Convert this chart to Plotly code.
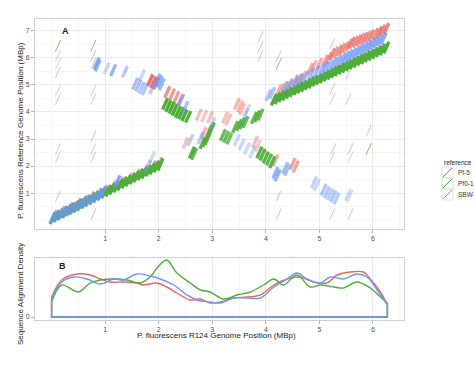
import plotly.graph_objects as go

W, H = 474, 366

# ---------------- data ----------------
ref_names = ["Pf-5", "Pf0-1", "SBW-"]
ref_colors = ["#E8675E", "#4FAE3A", "#6C96F5"]

# alignment marks (query MBp, reference MBp, identity %)
pf5_x = [0.05, 0.2, 0.35, 0.5, 0.62, 0.75, 0.88, 1.0, 1.15, 1.3, 1.45, 1.6, 1.75, 1.9, 2.02,
         1.84, 1.9, 1.95, 2.16, 2.25, 2.33, 2.42, 2.5, 2.84, 2.93, 2.96, 2.75, 2.85, 3.24, 3.3,
         3.46, 3.52, 3.56, 3.8, 3.85, 4.18, 4.5, 4.56,
         4.24, 4.3, 4.38, 4.45, 4.55, 4.62, 4.7, 4.83, 4.9, 5.0, 5.11, 5.18, 5.24, 5.3, 5.37,
         5.43, 5.5, 5.56, 5.61, 5.67, 5.73, 5.79, 5.85, 5.91, 5.97, 6.05, 6.12, 6.18, 6.25,
         5.24, 5.54, 5.24, 5.54, 5.92, 3.9, 4.24, 0.12, 0.12, 0.78, 0.78, 0.12, 0.78, 5.92, 4.24]
pf5_y = [0.15, 0.3, 0.45, 0.6, 0.72, 0.84, 0.97, 1.09, 1.24, 1.38, 1.53, 1.68, 1.83, 1.98, 2.1,
         5.18, 5.1, 5.05, 4.74, 4.65, 4.55, 4.45, 2.85, 3.22, 3.26, 3.81, 3.9, 3.85, 3.8, 3.72,
         4.3, 4.2, 4.1, 2.9, 2.75, 2.22, 2.08, 1.98,
         4.81, 4.85, 4.92, 5.0, 5.16, 5.2, 5.3, 5.6, 5.7, 5.78, 5.9, 6.0, 6.15, 6.2, 6.27,
         6.33, 6.4, 6.5, 6.56, 6.6, 6.65, 6.7, 6.74, 6.78, 6.83, 6.89, 6.95, 7.02, 7.08,
         6.52, 5.41, 4.48, 4.48, 3.3, 6.78, 6.07, 6.45, 5.47, 6.08, 4.79, 2.63, 2.33, 2.63, 5.78]
pf5_id = [90, 90, 90, 91, 90, 91, 90, 90, 89, 90, 89, 90, 91, 92, 93,
          96, 95, 94, 92, 91, 91, 90, 86, 88, 88, 87, 87, 86, 87, 87,
          88, 88, 87, 87, 86, 89, 90, 90,
          88, 87, 88, 87, 89, 88, 88, 89, 88, 89, 90, 90, 91, 90, 91,
          91, 90, 91, 92, 91, 92, 91, 92, 91, 92, 92, 93, 92, 93,
          82, 82, 81, 81, 81, 81, 81, 81, 81, 81, 81, 81, 81, 81, 81]

pf01_x = [0.02, 0.09, 0.16, 0.24, 0.31, 0.38, 0.46, 0.53, 0.61, 0.68, 0.76, 0.83, 0.91, 0.98,
          1.06, 1.13, 1.21, 1.28, 1.36, 1.43, 1.51, 1.58, 1.66, 1.73, 1.81, 1.88, 1.96, 2.03,
          2.12, 2.18, 2.24, 2.3, 2.36, 2.42, 2.48, 2.55,
          2.62, 2.66, 2.82, 2.87, 2.91, 2.95, 2.99,
          3.2, 3.26, 3.32, 3.43, 3.5, 3.56, 3.62, 3.78, 3.84, 3.9,
          3.88, 3.94, 4.0, 4.06, 4.12,
          4.15, 4.22, 4.29, 4.36, 4.43, 4.5, 4.57, 4.64, 4.71, 4.78, 4.85, 4.92, 4.99, 5.06,
          5.13, 5.2, 5.27, 5.34, 5.41, 5.48, 5.55, 5.62, 5.69, 5.76, 5.83, 5.9, 5.97, 6.04,
          6.11, 6.18, 6.25,
          5.26, 5.58, 0.12, 0.12, 0.78, 0.78, 0.12, 0.78, 5.92, 4.24, 4.24, 0.78, 5.24, 5.58, 3.9]
pf01_y = [0.07, 0.14, 0.21, 0.29, 0.36, 0.42, 0.5, 0.57, 0.65, 0.72, 0.8, 0.87, 0.95, 1.02,
          1.09, 1.16, 1.24, 1.31, 1.39, 1.46, 1.54, 1.61, 1.69, 1.75, 1.83, 1.9, 1.98, 2.05,
          4.3, 4.22, 4.15, 4.08, 4.0, 3.95, 3.88, 3.82,
          2.5, 2.45, 2.85, 2.92, 3.0, 3.3, 3.4,
          3.15, 3.08, 3.02, 3.45, 3.52, 3.58, 3.63, 3.78, 3.84, 3.9,
          2.5, 2.42, 2.32, 2.24, 2.14,
          4.45, 4.51, 4.58, 4.64, 4.71, 4.77, 4.84, 4.9, 4.96, 5.03, 5.09, 5.16, 5.22, 5.28,
          5.35, 5.41, 5.48, 5.54, 5.61, 5.67, 5.73, 5.8, 5.86, 5.93, 5.99, 6.06, 6.12, 6.18,
          6.25, 6.31, 6.38,
          2.63, 2.63, 6.45, 4.48, 6.45, 5.78, 0.89, 0.22, 2.63, 0.89, 0.22, 3.1, 0.22, 0.22, 6.41]
pf01_id = [97, 97, 96, 97, 96, 97, 97, 96, 97, 98, 97, 98, 97, 98,
           98, 98, 97, 98, 98, 97, 98, 98, 97, 98, 98, 97, 98, 97,
           97, 97, 98, 97, 97, 98, 97, 96,
           96, 95, 96, 96, 95, 96, 96,
           94, 94, 93, 95, 95, 95, 94, 95, 95, 94,
           96, 96, 96, 95, 96,
           98, 98, 98, 98, 98, 98, 98, 98, 98, 98, 98, 98, 98, 98,
           98, 98, 98, 98, 98, 98, 98, 98, 98, 98, 98, 98, 98, 98,
           98, 98, 98,
           82, 82, 81, 81, 81, 81, 81, 81, 81, 81, 81, 81, 81, 81, 81]

sbw_x = [0.02, 0.1, 0.18, 0.26, 0.34, 0.42, 0.5, 0.58, 0.66, 0.74, 0.82, 0.9, 0.96, 1.23, 1.8, 1.88,
         0.84, 0.86, 1.03, 1.15, 1.37, 1.69, 1.56, 1.62, 1.68, 1.74, 1.88, 1.98, 2.02, 2.06,
         2.4, 2.5, 2.59, 2.78, 3.0, 3.46, 3.62, 3.65, 3.55, 3.65, 3.75, 4.18, 4.22, 4.36, 4.4,
         4.9, 4.95, 5.08, 5.14, 5.2, 5.26, 5.32, 5.54,
         4.05, 4.12, 4.35, 4.45, 4.55, 4.65, 4.75, 4.85, 4.95, 5.05, 5.12, 5.2, 5.28, 5.36,
         5.44, 5.5, 5.57, 5.64, 5.71, 5.78, 5.85, 5.92, 5.99, 6.06, 6.13, 6.2,
         5.24, 5.58, 5.58, 0.12, 0.12, 0.78, 0.78, 0.12, 0.78, 4.24, 3.9, 0.12, 5.24]
sbw_y = [0.08, 0.16, 0.24, 0.31, 0.39, 0.47, 0.55, 0.63, 0.7, 0.78, 0.86, 0.94, 1.04, 1.44, 2.0, 2.33,
         5.8, 5.72, 5.62, 5.55, 5.49, 5.37, 5.05, 4.98, 4.9, 4.84, 4.88, 5.2, 5.12, 5.02,
         4.44, 4.19, 2.96, 3.03, 3.59, 2.96, 3.93, 4.07, 2.8, 2.65, 2.52, 1.75, 1.65, 1.93, 1.85,
         1.4, 1.3, 1.12, 1.02, 0.95, 0.88, 0.8, 0.93,
         4.63, 4.7, 4.92, 5.02, 5.11, 5.21, 5.31, 5.4, 5.5, 5.6, 5.66, 5.74, 5.82, 5.89,
         5.97, 6.04, 6.1, 6.17, 6.24, 6.31, 6.37, 6.44, 6.52, 6.58, 6.65, 6.72,
         2.33, 2.33, 0.89, 6.08, 4.79, 6.45, 4.48, 2.33, 2.63, 5.78, 6.07, 5.78, 4.85]
sbw_id = [93, 93, 93, 94, 93, 93, 93, 94, 93, 93, 93, 93, 94, 94, 88, 84,
          93, 92, 86, 92, 88, 85, 90, 90, 89, 89, 88, 92, 92, 91,
          90, 90, 88, 88, 87, 86, 86, 85, 84, 84, 85, 92, 92, 90, 90,
          87, 86, 89, 89, 88, 89, 88, 86,
          89, 89, 89, 90, 90, 91, 90, 91, 91, 91, 92, 91, 92, 92,
          92, 92, 93, 92, 93, 93, 93, 93, 93, 93, 93, 93,
          83, 82, 82, 81, 81, 81, 81, 81, 81, 81, 81, 81, 81]

# alignment density (R124 MBp, density)
pf5_dx = [0.0, 0.19, 0.47, 0.72, 0.91, 1.09, 1.34, 1.59, 1.71, 1.97, 2.15, 2.34, 2.59, 2.78, 2.96,
          3.15, 3.39, 3.65, 3.9, 4.15, 4.4, 4.64, 4.89, 5.14, 5.33, 5.58, 5.82, 5.95, 6.14, 6.27]
pf5_dy = [0.10, 0.185, 0.215, 0.21, 0.19, 0.175, 0.175, 0.17, 0.16, 0.17, 0.15, 0.12, 0.085, 0.09,
          0.07, 0.075, 0.095, 0.10, 0.11, 0.16, 0.19, 0.20, 0.175, 0.17, 0.21, 0.225, 0.225, 0.19,
          0.125, 0.06]
pf01_dx = [0.0, 0.19, 0.5, 0.72, 0.91, 1.16, 1.41, 1.65, 1.84, 2.0, 2.15, 2.34, 2.59, 2.78, 2.96,
           3.21, 3.46, 3.71, 3.96, 4.15, 4.33, 4.58, 4.83, 5.02, 5.27, 5.45, 5.7, 5.95, 6.14, 6.27]
pf01_dy = [0.075, 0.16, 0.125, 0.17, 0.185, 0.19, 0.185, 0.17, 0.20, 0.255, 0.285, 0.22, 0.17,
           0.135, 0.125, 0.09, 0.11, 0.125, 0.16, 0.19, 0.16, 0.21, 0.15, 0.16, 0.15, 0.145, 0.175,
           0.145, 0.10, 0.07]
sbw_dx = [0.0, 0.19, 0.41, 0.66, 0.91, 1.16, 1.34, 1.59, 1.84, 2.03, 2.28, 2.53, 2.71, 2.96, 3.15,
          3.4, 3.65, 3.9, 4.15, 4.4, 4.58, 4.77, 5.02, 5.2, 5.45, 5.7, 5.89, 6.08, 6.27]
sbw_dy = [0.095, 0.175, 0.20, 0.19, 0.165, 0.19, 0.185, 0.215, 0.205, 0.19, 0.16, 0.11, 0.085,
          0.075, 0.07, 0.095, 0.095, 0.095, 0.15, 0.19, 0.22, 0.19, 0.17, 0.20, 0.19, 0.215, 0.20,
          0.135, 0.06]

x_ticks = [1, 2, 3, 4, 5, 6]
y_ticks = [1, 2, 3, 4, 5, 6, 7]

# ---------------- figure ----------------
def px(v):
    return v / W


def py(v):
    return 1 - v / H


fig = go.Figure()
marks = [(pf5_x, pf5_y, pf5_id), (pf01_x, pf01_y, pf01_id), (sbw_x, sbw_y, sbw_id)]
for (xs, ys, ids), name, col in zip(marks, ref_names, ref_colors):
    alpha = [0.45 if i < 84 else min(1.0, max(0.35, (i - 80) / 17.0)) for i in ids]
    widths = [1.0 if i < 84 else 3.4 for i in ids]
    sizes = [9 if i < 84 else 9 for i in ids]
    fig.add_trace(go.Scatter(
        x=xs, y=ys, mode="markers", xaxis="x", yaxis="y", showlegend=False, name=name,
        marker=dict(symbol="line-ns", angle=24, size=sizes, opacity=alpha,
                    line=dict(color=col, width=widths)),
        hoverinfo="skip"))

dens = [(pf5_dx, pf5_dy), (pf01_dx, pf01_dy), (sbw_dx, sbw_dy)]
for (dx, dy), name, col in zip(dens, ref_names, ref_colors):
    fig.add_trace(go.Scatter(
        x=dx, y=dy, mode="lines", xaxis="x2", yaxis="y2", showlegend=False,
        line=dict(color=col, width=1.4, shape="spline", smoothing=1.0), hoverinfo="skip"))
    fig.add_trace(go.Scatter(
        x=[dx[0], dx[0], dx[-1], dx[-1]], y=[dy[0], 0, 0, dy[-1]], mode="lines",
        xaxis="x2", yaxis="y2", showlegend=False,
        line=dict(color=col, width=1.4), hoverinfo="skip"))

tickfont = dict(family="Liberation Sans, Arial, sans-serif", size=7, color="#4D4D4D")
common_x = dict(range=[-0.31, 6.58], tickvals=x_ticks, ticks="outside", ticklen=3,
                tickcolor="#B0B0B0", tickfont=tickfont, showgrid=True, gridcolor="#EBEBEB",
                gridwidth=1, zeroline=False, showline=True, mirror=True, linecolor="#D0D0D0",
                linewidth=1, minor=dict(dtick=0.5, tick0=0, showgrid=True, gridcolor="#F6F6F6"))
fig.update_layout(
    width=W, height=H, margin=dict(l=0, r=0, t=0, b=0),
    paper_bgcolor="white", plot_bgcolor="white",
    font=dict(family="Liberation Sans, Arial, sans-serif", color="#333333"),
    xaxis=dict(domain=[px(35), px(404)], anchor="y", **common_x),
    yaxis=dict(domain=[py(229), py(19)], anchor="x", range=[-0.33, 7.44], tickvals=y_ticks,
               ticks="outside", ticklen=3, tickcolor="#B0B0B0", tickfont=tickfont,
               showgrid=True, gridcolor="#EBEBEB", zeroline=False, showline=True, mirror=True,
               linecolor="#D0D0D0", minor=dict(dtick=0.5, tick0=0, showgrid=True,
                                                gridcolor="#F6F6F6")),
    xaxis2=dict(domain=[px(35), px(404)], anchor="y2", **common_x),
    yaxis2=dict(domain=[py(320), py(258)], anchor="x2", range=[-0.015, 0.295], tickvals=[0],
                ticks="outside", ticklen=3, tickcolor="#B0B0B0", tickfont=tickfont,
                showgrid=False, zeroline=False, showline=True, mirror=True, linecolor="#D0D0D0"),
)

ann_font = dict(family="Liberation Sans, Arial, sans-serif", size=8, color="#222222")
annotations = [
    dict(x=px(65), y=py(31), text="<b>A</b>", font=dict(size=9, color="#222222")),
    dict(x=px(63), y=py(266), text="<b>B</b>", font=dict(size=9, color="#222222")),
    dict(x=px(20), y=py(131), text="P. fluorescens Reference Genome Position (MBp)",
         textangle=-90, font=ann_font),
    dict(x=px(20), y=py(294), text="Sequence Alignment Density", textangle=-90, font=ann_font),
    dict(x=px(216), y=py(335), text="P. fluorescens R124 Genome Position (MBp)", font=ann_font),
    dict(x=px(442), y=py(163), text="reference", xanchor="left",
         font=dict(size=6.5, color="#222222")),
]
for i, (name, col) in enumerate(zip(ref_names, ref_colors)):
    top = 167 + i * 11
    fig.add_shape(type="rect", xref="paper", yref="paper", x0=px(442), x1=px(453),
                  y0=py(top + 11), y1=py(top), line=dict(color="#D8D8D8", width=0.8),
                  fillcolor="white")
    fig.add_shape(type="line", xref="paper", yref="paper", x0=px(443), x1=px(452),
                  y0=py(top + 10), y1=py(top + 1), line=dict(color=col, width=1))
    annotations.append(dict(x=px(456), y=py(top + 5.5), text=name, xanchor="left",
                            font=dict(size=6.5, color="#333333")))
for a in annotations:
    a.setdefault("xref", "paper")
    a.setdefault("yref", "paper")
    a.setdefault("showarrow", False)
    a.setdefault("xanchor", "center")
    a.setdefault("yanchor", "middle")
fig.update_layout(annotations=annotations)

fig.write_html("out.html", config={"displayModeBar": False},
               post_script="document.body.style.margin='0';")
